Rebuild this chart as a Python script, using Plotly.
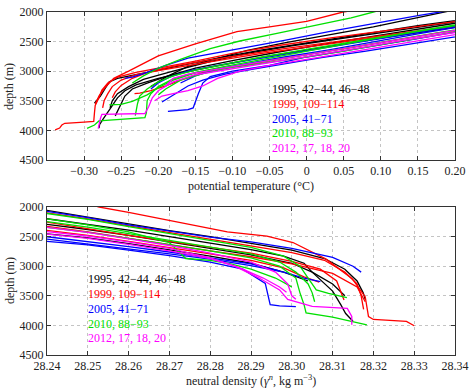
import plotly.graph_objects as go

# ---------------- data ----------------
years = ["1995", "1999", "2005", "2010", "2012"]
labels = ["1995, 42−44, 46−48", "1999, 109−114", "2005, 41−71", "2010, 88−93", "2012, 17, 18, 20"]
colors = ["#000000", "#ff0000", "#0000ff", "#00e000", "#ff00ff"]

# top panel: (potential temperature, depth) profiles
theta_1995 = [
    [(-0.286,3540),(-0.283,3500),(-0.278,3420),(-0.272,3300),(-0.266,3180),(-0.255,3120),(-0.22,3030),(-0.17,2900),(-0.12,2780),(-0.06,2640),(0.0,2520),(0.08,2360),(0.15,2230),(0.22,2110)],
    [(-0.280,3960),(-0.279,3900),(-0.274,3800),(-0.268,3700),(-0.262,3580),(-0.255,3450),(-0.245,3330),(-0.230,3230),(-0.20,3120),(-0.15,2980),(-0.10,2860),(-0.05,2740),(0.02,2600),(0.10,2440),(0.20,2260),(0.24,2190)],
    [(-0.258,3755),(-0.256,3700),(-0.250,3560),(-0.245,3420),(-0.235,3300),(-0.215,3200),(-0.19,3090),(-0.15,2950),(-0.10,2820),(-0.04,2680),(0.03,2530),(0.12,2350),(0.22,2150)],
    [(-0.21,3260),(-0.19,3100),(-0.16,2920),(-0.12,2780),(-0.08,2650),(-0.03,2520),(0.03,2390),(0.09,2250),(0.14,2120),(0.19,1990)],
    [(-0.265,3620),(-0.262,3500),(-0.255,3380),(-0.24,3260),(-0.22,3140),(-0.18,3000),(-0.13,2840),(-0.08,2700),(-0.02,2570),(0.06,2420),(0.14,2280),(0.22,2130)],
]
theta_1999 = [
    [(-0.339,3990),(-0.333,3960),(-0.330,3910),(-0.326,3880),(-0.300,3860),(-0.287,3850),(-0.286,3700),(-0.285,3580),(-0.280,3450),(-0.276,3320),(-0.268,3200),(-0.255,3100),(-0.23,3020),(-0.20,2950),(-0.15,2830),(-0.10,2700),(-0.04,2570),(0.03,2440),(0.10,2330),(0.18,2200),(0.25,2080)],
    [(-0.285,3560),(-0.280,3420),(-0.272,3280),(-0.26,3120),(-0.24,3000),(-0.22,2870),(-0.20,2740),(-0.15,2540),(-0.094,2330),(-0.05,2250),(0.0,2160),(0.049,2000),(0.06,1980)],
    [(-0.275,3620),(-0.273,3500),(-0.268,3380),(-0.262,3260),(-0.25,3150),(-0.23,3060),(-0.20,2990),(-0.16,2900),(-0.11,2800),(-0.06,2700),(0.0,2590),(0.07,2470),(0.14,2350),(0.21,2220)],
    [(-0.232,3380),(-0.225,3370),(-0.21,3330),(-0.19,3250),(-0.17,3150),(-0.14,3020),(-0.10,2930),(-0.05,2820),(0.0,2720),(0.06,2600),(0.12,2470),(0.18,2350),(0.24,2240)],
    [(-0.262,3450),(-0.258,3350),(-0.25,3240),(-0.235,3120),(-0.21,3000),(-0.18,2920),(-0.14,2830),(-0.09,2730),(-0.03,2620),(0.04,2500),(0.11,2380),(0.18,2270),(0.24,2170)],
]
theta_2005 = [
    [(-0.187,3680),(-0.175,3670),(-0.160,3650),(-0.153,3620),(-0.150,3500),(-0.146,3380),(-0.140,3200),(-0.13,3090),(-0.10,3000),(-0.05,2900),(0.0,2760),(0.05,2660),(0.10,2560),(0.15,2450),(0.20,2340),(0.25,2240)],
    [(-0.195,3520),(-0.19,3480),(-0.18,3400),(-0.17,3330),(-0.16,3250),(-0.14,3150),(-0.11,3050),(-0.07,2960),(-0.03,2870),(0.02,2770),(0.08,2660),(0.14,2540),(0.20,2420),(0.25,2320)],
    [(-0.245,3120),(-0.235,3100),(-0.215,3020),(-0.19,2900),(-0.16,2780),(-0.12,2690),(-0.08,2600),(-0.03,2480),(0.03,2330),(0.09,2190),(0.15,2060),(0.19,1980)],
    [(-0.21,3300),(-0.20,3200),(-0.185,3100),(-0.16,3000),(-0.12,2900),(-0.07,2800),(-0.01,2680),(0.05,2560),(0.11,2430),(0.17,2300),(0.23,2170)],
    [(-0.17,3200),(-0.15,3080),(-0.12,2960),(-0.08,2870),(-0.03,2760),(0.03,2640),(0.09,2500),(0.15,2370),(0.21,2240)],
]
theta_2010 = [
    [(-0.296,3965),(-0.286,3910),(-0.280,3840),(-0.250,3810),(-0.218,3785),(-0.216,3700),(-0.215,3500),(-0.210,3380),(-0.200,3260),(-0.18,3130),(-0.15,3020),(-0.11,2920),(-0.06,2800),(0.0,2660),(0.07,2500),(0.14,2350),(0.21,2210)],
    [(-0.231,3750),(-0.230,3650),(-0.228,3550),(-0.225,3420),(-0.215,3300),(-0.20,3180),(-0.18,3080),(-0.15,2980),(-0.11,2880),(-0.06,2760),(0.0,2630),(0.07,2480),(0.14,2340),(0.21,2200)],
    [(-0.266,3570),(-0.25,3560),(-0.235,3510),(-0.215,3400),(-0.20,3280),(-0.18,3150),(-0.15,3030),(-0.11,2940),(-0.06,2840),(0.0,2720),(0.06,2590),(0.12,2460),(0.18,2340),(0.24,2220)],
    [(-0.235,3200),(-0.22,3080),(-0.20,2950),(-0.17,2800),(-0.13,2620),(-0.09,2490),(-0.04,2360),(0.02,2200),(0.06,2100),(0.09,2000),(0.10,1970)],
    [(-0.20,3400),(-0.19,3300),(-0.17,3150),(-0.14,3040),(-0.107,2950),(-0.06,2870),(-0.01,2780),(0.05,2660),(0.11,2530),(0.17,2400),(0.23,2270)],
]
theta_2012 = [
    [(-0.281,3970),(-0.280,3900),(-0.278,3800),(-0.276,3730),(-0.25,3725),(-0.218,3715),(-0.213,3600),(-0.208,3450),(-0.20,3330),(-0.18,3180),(-0.15,3060),(-0.10,2960),(-0.05,2860),(0.01,2740),(0.07,2610),(0.13,2480),(0.19,2360),(0.25,2250)],
    [(-0.205,3500),(-0.195,3420),(-0.18,3380),(-0.16,3330),(-0.14,3250),(-0.12,3120),(-0.09,3000),(-0.05,2900),(0.0,2800),(0.06,2670),(0.12,2540),(0.18,2420),(0.24,2300)],
    [(-0.19,3250),(-0.18,3120),(-0.16,3050),(-0.12,2960),(-0.07,2860),(-0.01,2740),(0.05,2620),(0.11,2490),(0.17,2370),(0.23,2250)],
]

# bottom panel: (neutral density, depth) profiles
gamma_1995 = [
    [(28.235,2150),(28.25,2290),(28.26,2390),(28.27,2500),(28.28,2610),(28.29,2720),(28.298,2830),(28.303,2950),(28.305,3100),(28.308,3300),(28.310,3420),(28.312,3650),(28.3132,3800),(28.315,3930)],
    [(28.235,2000),(28.25,2170),(28.26,2290),(28.27,2400),(28.28,2500),(28.29,2610),(28.30,2730),(28.308,2870),(28.313,3050),(28.316,3250),(28.3175,3450),(28.318,3560)],
    [(28.235,2420),(28.25,2520),(28.26,2620),(28.27,2720),(28.28,2830),(28.29,2950),(28.298,3100),(28.304,3250)],
    [(28.235,2250),(28.25,2380),(28.26,2480),(28.27,2590),(28.28,2700),(28.29,2810),(28.30,2950),(28.305,3100),(28.31,3300),(28.313,3500)],
]
gamma_1999 = [
    [(28.250,1950),(28.2528,2000),(28.26,2090),(28.27,2230),(28.2842,2420),(28.2939,2490),(28.3003,2600),(28.3084,2880),(28.3148,3210),(28.318,3520),(28.3188,3850),(28.320,3900),(28.3281,3933),(28.330,4005)],
    [(28.235,2200),(28.25,2370),(28.26,2480),(28.27,2580),(28.28,2680),(28.29,2780),(28.30,2920),(28.307,3050),(28.311,3250),(28.3128,3570)],
    [(28.235,2050),(28.25,2200),(28.26,2320),(28.27,2430),(28.28,2540),(28.29,2650),(28.30,2770),(28.308,2900),(28.313,3100),(28.316,3300),(28.317,3500),(28.3176,3730)],
    [(28.235,2350),(28.25,2480),(28.26,2580),(28.27,2680),(28.28,2790),(28.29,2900),(28.298,3030),(28.303,3180),(28.3067,3270)],
    [(28.235,2280),(28.25,2420),(28.26,2530),(28.27,2640),(28.28,2740),(28.29,2840),(28.30,2960),(28.31,3120),(28.316,3350),(28.318,3600)],
]
gamma_2005 = [
    [(28.235,2550),(28.25,2640),(28.26,2730),(28.27,2820),(28.28,2930),(28.288,3050),(28.2935,3290),(28.2947,3650),(28.297,3670),(28.301,3683)],
    [(28.235,2020),(28.25,2180),(28.26,2300),(28.27,2410),(28.28,2510),(28.29,2590),(28.30,2700),(28.31,2850),(28.315,3000),(28.317,3100)],
    [(28.235,2500),(28.25,2620),(28.26,2700),(28.27,2790),(28.28,2880),(28.29,2990),(28.298,3100),(28.303,3200),(28.307,3260)],
    [(28.235,2460),(28.25,2580),(28.26,2670),(28.27,2760),(28.28,2860),(28.29,2960),(28.297,3080)],
]
gamma_2010 = [
    [(28.235,2300),(28.25,2430),(28.26,2530),(28.27,2630),(28.28,2740),(28.29,2860),(28.297,3000),(28.301,3200),(28.302,3450),(28.303,3650),(28.3035,3790),(28.31,3860),(28.315,3930),(28.3184,3990)],
    [(28.235,2200),(28.25,2340),(28.26,2450),(28.27,2560),(28.28,2670),(28.29,2790),(28.297,2930),(28.301,3100),(28.304,3300),(28.305,3450),(28.3056,3600)],
    [(28.235,2060),(28.25,2210),(28.26,2330),(28.27,2450),(28.28,2560),(28.29,2680),(28.298,2830),(28.302,3000),(28.304,3200),(28.306,3400),(28.309,3460),(28.3135,3530)],
    [(28.235,2150),(28.25,2300),(28.26,2420),(28.27,2600),(28.274,2870),(28.28,2900),(28.285,2960),(28.29,3050),(28.296,3200),(28.300,3350)],
]
gamma_2012 = [
    [(28.235,2380),(28.25,2490),(28.26,2590),(28.27,2700),(28.28,2860),(28.286,3000),(28.292,3200),(28.297,3400),(28.299,3560),(28.305,3680),(28.3136,3712),(28.3147,3850),(28.3147,3990)],
    [(28.235,2420),(28.25,2530),(28.26,2630),(28.27,2740),(28.28,2870),(28.287,3020),(28.293,3200),(28.297,3350),(28.2987,3440)],
    [(28.235,2300),(28.25,2430),(28.26,2540),(28.27,2650),(28.28,2780),(28.29,2930),(28.296,3100),(28.299,3300),(28.300,3500),(28.301,3560)],
]

theta_ticks = [-0.30, -0.25, -0.20, -0.15, -0.10, -0.05, 0, 0.05, 0.10, 0.15, 0.20]
theta_ticktext = ["−0.30", "−0.25", "−0.20", "−0.15", "−0.10", "−0.05", "0", "0.05", "0.10", "0.15", "0.20"]
gamma_ticks = [28.24, 28.25, 28.26, 28.27, 28.28, 28.29, 28.30, 28.31, 28.32, 28.33, 28.34]
gamma_ticktext = ["28.24", "28.25", "28.26", "28.27", "28.28", "28.29", "28.30", "28.31", "28.32", "28.33", "28.34"]
depth_ticks = [2000, 2500, 3000, 3500, 4000, 4500]

# legend text placement (data coords)
theta_label_x = -0.05
gamma_label_x = 28.2495
label_depths = [3300, 3550, 3800, 4050, 4300]
gamma_label_depths = [3220, 3470, 3720, 3970, 4220]

# ---------------- figure ----------------
FONT = "Liberation Serif"
FS = 12
W, H = 474, 388
ML, MR, MT, MB = 47, 13, 5, 33
PW, PH = W - ML - MR, H - MT - MB

def py(px):  # pixel row -> paper y
    return (H - MB - px) / PH

def pxx(px):  # pixel column -> paper x
    return (px - ML) / PW

fig = go.Figure()
top_sets = [theta_1995, theta_1999, theta_2005, theta_2010, theta_2012]
bot_sets = [gamma_1995, gamma_1999, gamma_2005, gamma_2010, gamma_2012]

for profiles, col in zip(top_sets, colors):
    for prof in profiles:
        fig.add_trace(go.Scatter(x=[p[0] for p in prof], y=[p[1] for p in prof],
                                 mode="lines", line=dict(color=col, width=1.3),
                                 xaxis="x", yaxis="y", showlegend=False, hoverinfo="skip"))
for profiles, col in zip(bot_sets, colors):
    for prof in profiles:
        fig.add_trace(go.Scatter(x=[p[0] for p in prof], y=[p[1] for p in prof],
                                 mode="lines", line=dict(color=col, width=1.3),
                                 xaxis="x2", yaxis="y2", showlegend=False, hoverinfo="skip"))

for lab, col, d in zip(labels, colors, label_depths):
    fig.add_annotation(x=theta_label_x, y=d, xref="x", yref="y", text=lab, showarrow=False,
                       xanchor="left", yanchor="middle", font=dict(color=col, size=FS, family=FONT))
for lab, col, d in zip(labels, colors, gamma_label_depths):
    fig.add_annotation(x=gamma_label_x, y=d, xref="x2", yref="y2", text=lab, showarrow=False,
                       xanchor="left", yanchor="middle", font=dict(color=col, size=FS, family=FONT))

# axis titles
title_font = dict(size=FS, family=FONT, color="#222222")
fig.add_annotation(x=pxx(254), y=py(183), xref="paper", yref="paper", showarrow=False,
                   text="potential temperature (°C)", font=title_font, xanchor="center", yanchor="middle")
fig.add_annotation(x=pxx(254), y=py(381), xref="paper", yref="paper", showarrow=False,
                   text="neutral density (<i>γ</i><sup><i>n</i></sup>, kg m<sup>−3</sup>)",
                   font=title_font, xanchor="center", yanchor="middle")
fig.add_annotation(x=pxx(9), y=py(81), xref="paper", yref="paper", showarrow=False, textangle=-90,
                   text="depth (m)", font=title_font, xanchor="center", yanchor="middle")
fig.add_annotation(x=pxx(9), y=py(279), xref="paper", yref="paper", showarrow=False, textangle=-90,
                   text="depth (m)", font=title_font, xanchor="center", yanchor="middle")

axis_common = dict(showline=True, linecolor="#333333", linewidth=1, mirror="allticks",
                   ticks="inside", ticklen=4, tickcolor="#333333",
                   showgrid=True, gridcolor="#c4c4c4", griddash="dot", gridwidth=1,
                   zeroline=False, tickfont=dict(size=FS, family=FONT, color="#222222"))

fig.update_layout(
    width=W, height=H,
    margin=dict(l=ML, r=MR, t=MT, b=MB),
    paper_bgcolor="white", plot_bgcolor="white",
    font=dict(family=FONT, size=FS, color="#222222"),
    xaxis=dict(domain=[0, 1], range=[-0.35, 0.20], tickvals=theta_ticks, ticktext=theta_ticktext,
               anchor="y", **axis_common),
    yaxis=dict(domain=[py(156), 1], range=[4500, 2000], tickvals=depth_ticks, anchor="x", **axis_common),
    xaxis2=dict(domain=[0, 1], range=[28.24, 28.34], tickvals=gamma_ticks, ticktext=gamma_ticktext,
                anchor="y2", **axis_common),
    yaxis2=dict(domain=[0, py(204)], range=[4500, 2000], tickvals=depth_ticks, anchor="x2", **axis_common),
)

fig.write_html("out.html", config={"displayModeBar": False},
               post_script="document.body.style.margin='0';document.body.style.overflow='hidden';")
